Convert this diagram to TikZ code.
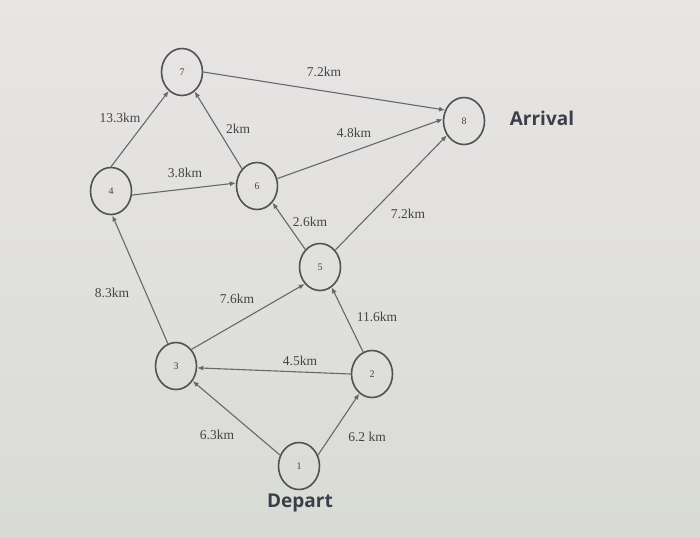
\documentclass[tikz,border=0pt]{standalone}
\usepackage{fontspec}
\setmainfont{Liberation Serif}
\newfontfamily\labsans{Open Sans}
\usetikzlibrary{shapes.geometric,arrows.meta}
\definecolor{bgtop}{HTML}{E8E5E4}
\definecolor{bgmid}{HTML}{E2E9EE}
\definecolor{bgbot}{HTML}{D9DBD5}
\definecolor{edgec}{HTML}{66686B}
\definecolor{ringc}{HTML}{505255}
\definecolor{txtc}{HTML}{434447}
\definecolor{bigtxt}{HTML}{3A3F4A}
\tikzset{
  vtx/.style={ellipse, draw=ringc, line width=1.6pt, minimum width=41pt, minimum height=47pt, inner sep=0pt, text=txtc, font=\fontsize{10}{10}\selectfont},
  edge/.style={draw=edgec, line width=1.1pt, -{Latex[length=6pt,width=5pt]}},
  dist/.style={text=txtc, font=\fontsize{13.5}{14}\selectfont, inner sep=0pt},
  tag/.style={text=bigtxt, font=\labsans\bfseries\fontsize{19}{20}\selectfont, inner sep=0pt}
}
\begin{document}
\begin{tikzpicture}[x=1pt,y=-1pt]
\useasboundingbox (0,0) rectangle (700,536);
\shade[top color=bgtop, middle color=bgmid, bottom color=bgbot] (0,0) rectangle (700,536);
% vertices
\node[vtx] (v7) at (182,72) {7};
\node[vtx] (v8) at (464,121) {8};
\node[vtx] (v4) at (111,191) {4};
\node[vtx] (v6) at (257,186) {6};
\node[vtx] (v5) at (320,267) {5};
\node[vtx] (v3) at (176,366) {3};
\node[vtx] (v2) at (372,374) {2};
\node[vtx] (v1) at (299,466) {1};
% edges
\draw[edge] (v4.north) -- (v7.235);
\draw[edge] (v6.131) -- (v7.303);
\draw[edge] (v7.east) -- (v8.150);
\draw[edge] (v6.20) -- (v8.175);
\draw[edge] (v4.349) -- (v6.172);
\draw[edge] (v5.130) -- (v6.313);
\draw[edge] (v5.48) -- (v8.220);
\draw[edge] (v3.110) -- (v4.273);
\draw[edge] (v3.47) -- (v5.228);
\draw[edge] (v2.112) -- (v5.300);
\draw[edge] (v2.180) -- (v3.355);
\draw[edge] (v1.150) -- (v3.318);
\draw[edge] (v1.30) -- (v2.237);
% distance labels
\node[dist] (d78) at (324,72) {7.2km};
\node[dist] (d47) at (120,118) {13.3km};
\node[dist] (d67) at (238,129) {2km};
\node[dist] (d68) at (354,133) {4.8km};
\node[dist] (d46) at (185,173) {3.8km};
\node[dist] (d56) at (310,222) {2.6km};
\node[dist] (d58) at (408,214) {7.2km};
\node[dist] (d34) at (112,293) {8.3km};
\node[dist] (d35) at (237,299) {7.6km};
\node[dist] (d25) at (377,317) {11.6km};
\node[dist] (d23) at (300,361) {4.5km};
\node[dist] (d13) at (217,435) {6.3km};
\node[dist] (d12) at (367,437) {6.2 km};
% tags
\node[tag] (arr) at (542,118) {Arrival};
\node[tag] (dep) at (300,503) {Depart};
\end{tikzpicture}
\end{document}
